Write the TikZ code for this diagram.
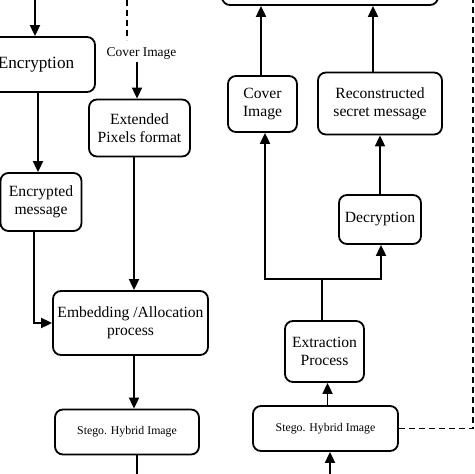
\documentclass[tikz,border=0pt]{standalone}
\usepackage{fontspec}
\setmainfont{Liberation Serif}
\usetikzlibrary{arrows.meta}

\begin{document}
\begin{tikzpicture}[
    x=0.5pt, y=-0.5pt,
    box/.style={draw, rounded corners=4pt, line width=0.9pt, align=center, inner sep=1pt, font=\fontsize{7.8}{9}\selectfont},
    small/.style={font=\fontsize{5.9}{7}\selectfont},
    arrow/.style={-{Triangle[length=5.5pt,width=5pt]}, line width=0.9pt},
    line/.style={line width=0.9pt},
    dline/.style={line width=0.8pt, dash pattern=on 3pt off 2pt}
]
    \useasboundingbox (0,0) rectangle (474,474);
    \clip (0,0) rectangle (474,474);
    % hiding side
    \node[box, minimum width=59pt, minimum height=27.5pt, font=\fontsize{8.6}{9}\selectfont] (enc) at (36,64.5) {Encryption};
    \node[font=\fontsize{6.7}{8}\selectfont, inner sep=1pt] (cvlbl) at (141.5,54) {Cover Image};
    \node[box, minimum width=50.5pt, minimum height=28.5pt] (ext) at (139.5,128) {Extended\\Pixels format};
    \node[box, minimum width=40.5pt, minimum height=29pt] (encmsg) at (41,202) {Encrypted\\message};
    \node[box, minimum width=77.5pt, minimum height=32pt] (embed) at (130.5,323) {Embedding /Allocation\\process};
    \node[box, small, minimum width=72pt, minimum height=22.5pt] (stegoL) at (127,432) {Stego. Hybrid Image};
    % recovery side
    \node[box, minimum width=108pt, minimum height=25pt] (top) at (330,-20) {};
    \node[box, minimum width=34.5pt, minimum height=28pt] (cover) at (262.5,104) {Cover\\Image};
    \node[box, minimum width=62pt, minimum height=31pt] (recon) at (380,103.5) {Reconstructed\\secret message};
    \node[box, minimum width=41pt, minimum height=24.5pt] (dec) at (380,219.5) {Decryption};
    \node[box, minimum width=39.5pt, minimum height=30.5pt] (extr) at (324.5,351.5) {Extraction\\Process};
    \node[box, small, minimum width=72.5pt, minimum height=22.5pt] (stegoR) at (325.5,428.5) {Stego. Hybrid Image};
    % loose ends
    \coordinate (in1) at (35,-10);
    \coordinate (dtop) at (127,-10);
    \coordinate (dend) at (127,40);
    \coordinate (outL) at (137,484);
    \coordinate (inR) at (330,484);
    \coordinate (dtopR) at (473,-10);
    \coordinate (split) at (322,279);
    % left connectors
    \draw[arrow] (in1) -- (in1 |- enc.north);
    \draw[dline] (dtop) -- (dend);
    \draw[arrow] ([xshift=-2.25pt]cvlbl.south) -- ([xshift=-2.25pt]cvlbl.south |- ext.north);
    \draw[arrow] ([xshift=1pt]enc.south) -- ([xshift=1pt]enc.south |- encmsg.north);
    \draw[arrow] ([xshift=-3.5pt]encmsg.south) |- (embed.west);
    \draw[arrow] ([xshift=-2.75pt]ext.south) -- ([xshift=-2.75pt]ext.south |- embed.north);
    \draw[arrow] ([xshift=1.75pt]embed.south) -- ([xshift=1.75pt]embed.south |- stegoL.north);
    \draw[line] (stegoL.south -| outL) -- (outL);
    % right connectors
    \draw[arrow] (inR) -- (inR |- stegoR.south);
    \draw[arrow] ([xshift=1pt]stegoR.north) -- ([xshift=1pt]stegoR.north |- extr.south);
    \draw[line] (extr.north -| split) -- (split);
    \draw[arrow] (split) -| ([xshift=1.25pt]cover.south);
    \draw[arrow] (split) -| ([xshift=0.5pt]dec.south);
    \draw[arrow] (dec.north) -- (recon.south);
    \draw[arrow] ([xshift=-0.75pt]cover.north) -- ([xshift=-0.75pt]cover.north |- top.south);
    \draw[arrow] ([xshift=-3.5pt]recon.north) -- ([xshift=-3.5pt]recon.north |- top.south);
    \draw[dline] (stegoR.east) -| (dtopR);
\end{tikzpicture}
\end{document}
